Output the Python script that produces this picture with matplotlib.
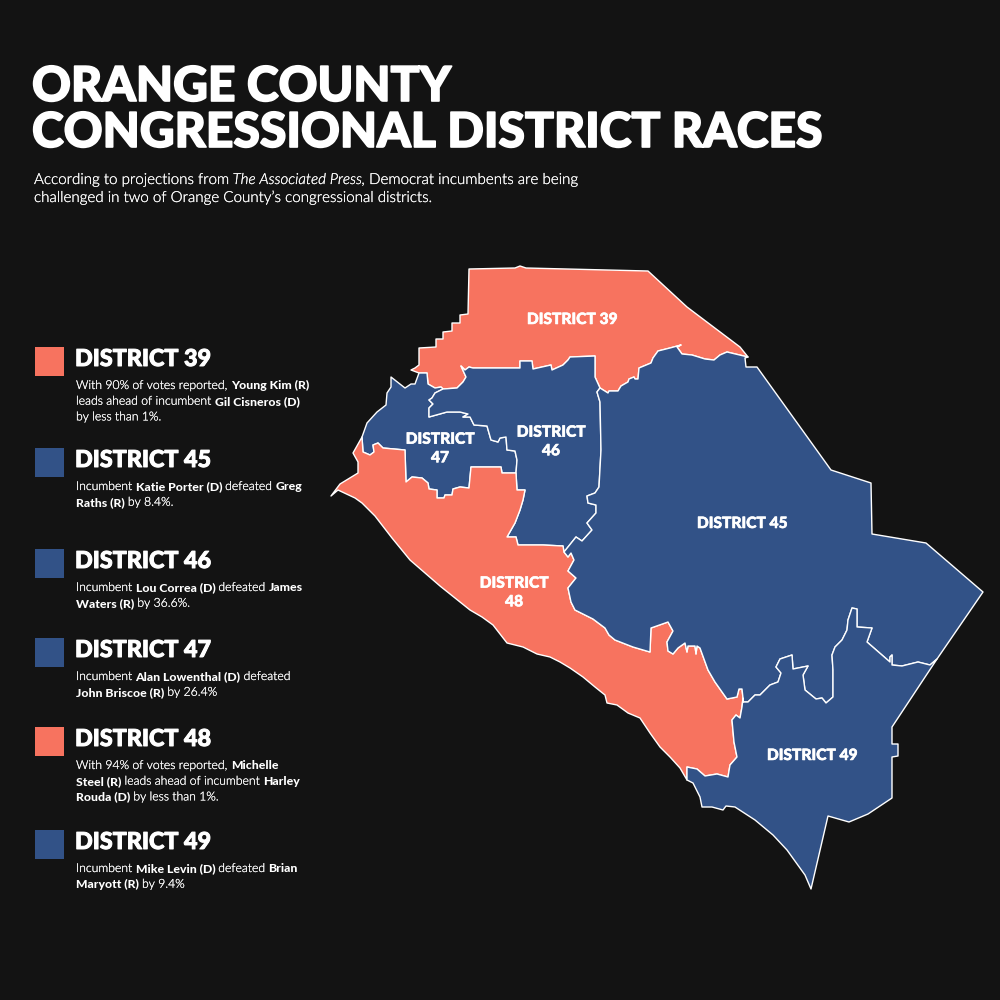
import matplotlib
matplotlib.use("Agg")
import matplotlib.pyplot as plt
from matplotlib.patches import Polygon, Rectangle
import matplotlib.patheffects as pe

BG = "#131313"
RED = "#F7735F"
BLUE = "#325287"
WHITE = "#FFFFFF"
FONT = "Lato"

# Map geometry (shared borders kept once each)
b39_north = [(469,269),(515,268),(520,266),(526,268),(648,271),(687,307),(740,347),(748,357)]
b39_45 = [(748,357),(727,352),(720,355),(714,360),(705,359),(692,355),(682,354),(677,347),(681,345),
          (670,348),(658,351),(653,358),(651,363),(639,368),(638,379),(635,379),(634,377),(629,379),
          (628,382),(621,386),(618,391),(609,391),(608,393),(600,388)]
b39_46 = [(600,388),(595,377),(595,356),(570,357),(568,360),(563,365),(552,370),(551,365),(533,369),
          (532,361),(520,361),(520,368),(473,368),(469,367),(465,370),(461,366),(466,377),(463,382),
          (457,388),(443,389)]
b39_47 = [(443,389),(441,387),(435,388),(428,384),(427,373),(419,373)]
b39_west = [(419,373),(411,370),(415,368),(419,365),(419,348),(436,347),(436,339),(443,339),(443,332),
            (452,331),(452,323),(460,323),(460,315),(468,314)]
b47_outer = [(419,373),(415,384),(411,384),(405,388),(391,377),(391,387),(387,393),(386,405),(377,412),
             (367,423),(362,437)]
b46_47 = [(443,389),(435,393),(432,398),(429,400),(433,404),(429,408),(429,417),(447,412),(460,412),
          (468,414),(463,417),(470,417),(474,425),(487,426),(491,440),(498,442),(500,438),(506,437),
          (507,450),(515,451),(517,460),(516,473)]
b47_48 = [(516,473),(502,473),(501,467),(471,467),(469,488),(460,487),(453,489),(452,495),(445,495),
          (444,498),(437,498),(437,490),(429,489),(428,483),(422,478),(412,477),(406,482),(405,450),
          (383,448),(378,443),(373,445),(374,452),(370,455),(363,452),(362,437)]
b46_48 = [(516,473),(517,490),(525,490),(523,500),(520,510),(515,523),(507,537),(516,537),(518,545),
          (543,545),(563,546),(564,552)]
b45_46 = [(600,388),(597,392),(600,402),(601,450),(599,487),(595,493),(587,496),(588,503),(596,505),
          (596,513),(587,523),(592,530),(582,541),(576,537),(564,552)]
b45_48 = [(564,552),(568,557),(571,553),(574,560),(568,571),(576,578),(568,588),(571,602),(575,610),
          (593,619),(605,628),(609,635),(615,640),(633,647),(650,652),(651,628),(668,622),(673,631),
          (667,642),(668,651),(673,654),(678,648),(685,643),(687,652),(688,646),(695,646),(696,654),
          (697,646),(700,648),(708,670),(715,682),(727,699),(737,697),(739,689),(742,689),(743,698)]
b48_49 = [(743,698),(742,707),(740,718),(736,715),(732,720),(734,742),(737,757),(730,765),(728,777),
          (717,774),(705,776),(697,769),(687,767),(687,780)]
b45_49 = [(743,698),(743,702),(748,702),(755,695),(760,695),(770,685),(778,682),(781,673),(776,667),
          (780,659),(792,655),(793,669),(808,666),(803,675),(805,690),(816,699),(822,698),(826,703),
          (833,697),(833,670),(832,655),(835,647),(842,640),(847,630),(848,620),(852,608),(857,609),
          (857,627),(872,628),(867,642),(890,662),(890,657),(892,655),(892,665),(902,666),(918,662),
          (930,665),(937,659)]
b45_outer = [(748,357),(745,358),(746,367),(757,367),(831,470),(871,483),(872,534),(926,543),(983,592),(937,659)]
b49_outer = [(937,659),(892,727),(892,744),(898,744),(898,756),(892,757),(892,798),(868,814),(849,822),
             (828,816),(811,889),(805,875),(787,850),(773,835),(755,820),(735,807),(726,806),(723,810),
             (712,807),(708,807),(702,807),(700,797),(693,783),(687,780)]
b48_coast = [(362,437),(353,453),(358,462),(358,473),(340,484),(331,496),(338,490),(355,498),(362,503),
             (375,516),(392,538),(410,560),(440,586),(470,610),(482,617),(493,625),(500,634),(507,643),
             (523,647),(537,654),(550,657),(560,662),(570,668),(583,677),(595,687),(605,695),
             (607,703),(617,705),(628,713),(640,718),(650,733),(660,747),(670,757),(680,768),(687,780)]

def rev(p):
    return p[::-1]

districts = {
    "39": (b39_north + b39_45 + b39_46 + b39_47 + b39_west, RED),
    "47": (b39_47 + b47_outer + rev(b47_48) + rev(b46_47), BLUE),
    "46": (rev(b39_46) + b45_46 + rev(b46_48) + rev(b46_47), BLUE),
    "48": (b48_coast + rev(b48_49) + rev(b45_48) + rev(b46_48) + b47_48, RED),
    "45": (b45_outer + rev(b45_49) + rev(b45_48) + rev(b45_46) + rev(b39_45), BLUE),
    "49": (b49_outer + rev(b48_49) + b45_49, BLUE),
}

map_labels = [("DISTRICT 39", 572, 319), ("DISTRICT 45", 742, 523), ("DISTRICT\n46", 551, 441),
              ("DISTRICT\n47", 440, 448), ("DISTRICT\n48", 514, 592), ("DISTRICT 49", 812, 755)]

title_lines = [("ORANGE COUNTY", 101), ("CONGRESSIONAL DISTRICT RACES", 147)]

legend = [
    ("DISTRICT 39", RED, 347, [[("With 90% of votes reported,", 0), ("Young Kim (R)", 1)],
                               [("leads ahead of incumbent", 0), ("Gil Cisneros (D)", 1)],
                               [("by less than 1%.", 0)]]),
    ("DISTRICT 45", BLUE, 448, [[("Incumbent", 0), ("Katie Porter (D)", 1), ("defeated", 0), ("Greg", 1)],
                                [("Raths (R)", 1), ("by 8.4%.", 0)]]),
    ("DISTRICT 46", BLUE, 549, [[("Incumbent", 0), ("Lou Correa (D)", 1), ("defeated", 0), ("James", 1)],
                                [("Waters (R)", 1), ("by 36.6%.", 0)]]),
    ("DISTRICT 47", BLUE, 638, [[("Incumbent", 0), ("Alan Lowenthal (D)", 1), ("defeated", 0)],
                                [("John Briscoe (R)", 1), ("by 26.4%", 0)]]),
    ("DISTRICT 48", RED, 727, [[("With 94% of votes reported,", 0), ("Michelle", 1)],
                               [("Steel (R)", 1), ("leads ahead of incumbent", 0), ("Harley", 1)],
                               [("Rouda (D)", 1), ("by less than 1%.", 0)]]),
    ("DISTRICT 49", BLUE, 830, [[("Incumbent", 0), ("Mike Levin (D)", 1), ("defeated", 0), ("Brian", 1)],
                                [("Maryott (R)", 1), ("by 9.4%", 0)]]),
]

fig = plt.figure(figsize=(10, 10), dpi=100, facecolor=BG)
ax = fig.add_axes([0, 0, 1, 1])
ax.set_xlim(0, 1000)
ax.set_ylim(1000, 0)
ax.axis("off")
renderer = fig.canvas.get_renderer()

for name, (pts, col) in districts.items():
    ax.add_patch(Polygon(pts, closed=True, facecolor=col, edgecolor=WHITE, linewidth=1.0, joinstyle="round"))

for txt, x, y in map_labels:
    ax.text(x, y, txt, color=WHITE, fontsize=11.2, family=FONT, weight="black", ha="center", va="center",
            linespacing=1.2, multialignment="center",
            path_effects=[pe.withStroke(linewidth=0.4, foreground=WHITE)])

def width(t):
    return t.get_window_extent(renderer).width

def rich(x, y, segs, size, styles, effects):
    """Lay out word groups one after another on a baseline."""
    probe = ax.text(0, 0, "n n", fontsize=size, family=FONT, weight=400)
    probe2 = ax.text(0, 0, "nn", fontsize=size, family=FONT, weight=400)
    gap = width(probe) - width(probe2)
    probe.remove(); probe2.remove()
    for s, k in segs:
        t = ax.text(x, y, s, color=WHITE, fontsize=size, family=FONT, va="baseline", ha="left", **styles[k])
        if effects[k]:
            t.set_path_effects([pe.withStroke(linewidth=effects[k], foreground=WHITE)])
        x += width(t) + gap

for s, y in title_lines:
    ax.text(32, y, s, color=WHITE, fontsize=34.6, family=FONT, weight="black", va="baseline",
            path_effects=[pe.withStroke(linewidth=1.2, foreground=WHITE)])

sub_styles = {0: dict(weight=300), 1: dict(weight=300, style="italic")}
sub_fx = {0: 0.15, 1: 0.15}
rich(34, 184, [("According to projections from", 0), ("The Associated Press,", 1),
               ("Democrat incumbents are being", 0)], 10.9, sub_styles, sub_fx)
rich(34, 202, [("challenged in two of Orange County\u2019s congressional districts.", 0)], 10.9, sub_styles, sub_fx)

body_styles = {0: dict(weight=300), 1: dict(weight="black")}
body_fx = {0: 0.15, 1: 0}
for head, col, top, lines in legend:
    ax.add_patch(Rectangle((35, top), 29, 29, facecolor=col, edgecolor="none"))
    ax.text(75, top + 19, head, color=WHITE, fontsize=16.8, family=FONT, weight="black", va="baseline",
            path_effects=[pe.withStroke(linewidth=0.7, foreground=WHITE)])
    for i, segs in enumerate(lines):
        rich(76, top + 42 + i * 15.7, segs, 8.8, body_styles, body_fx)

fig.savefig("out.png", dpi=100, facecolor=BG)
